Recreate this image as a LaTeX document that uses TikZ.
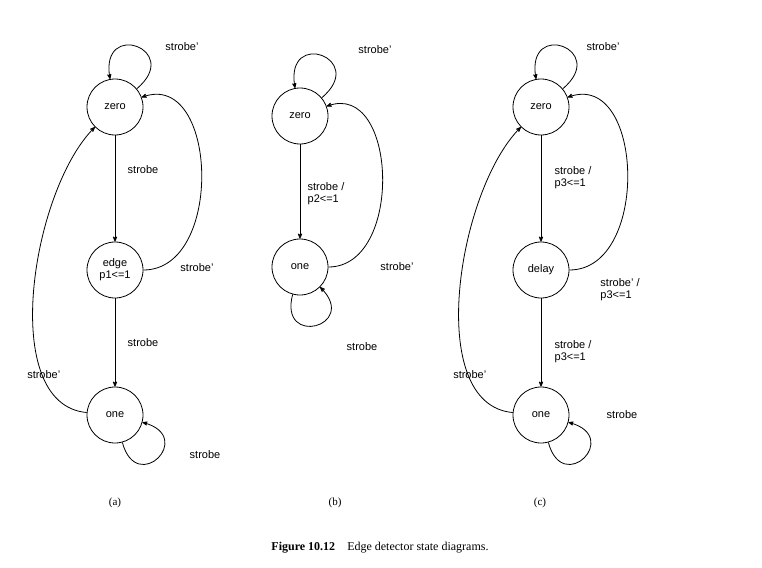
\documentclass[tikz,border=0pt]{standalone}
\usepackage{fontspec}
\setmainfont{Liberation Sans}
\newfontfamily\capfont{Liberation Serif}
\usetikzlibrary{arrows}
\usetikzlibrary{positioning}
\begin{document}
\begin{tikzpicture}[->,
                    >=stealth',
                    x=1pt,y=-1pt,
                    thick,
                    st/.style={circle,draw,minimum size=56pt,inner sep=0pt,align=center,font=\fontsize{11}{12}\selectfont},
                    lb/.style={draw=none,align=left,font=\fontsize{11}{12}\selectfont}
                    ]
\useasboundingbox (0,0) rectangle (762,567);
% (a)
  \node[st] (az) at (115,107) {zero};
  \node[st] (ae) at (115,270) {edge\\p1<=1};
  \node[st] (ao) at (115,415) {one};
\draw (az) edge[out=40,in=100,looseness=5.5] (az);
\node[lb] (al1) at (182,47) {strobe'};
\draw (az) -- (ae);
\node[lb] (al2) at (143,170) {strobe};
\draw (ae) to[out=0,in=20,looseness=1.2] (az);
\node[lb] (al3) at (197,268) {strobe'};
\draw (ae) -- (ao);
\node[lb] (al4) at (143,343) {strobe};
\draw (ao) to[out=175,in=225,looseness=0.8] (az);
\node[lb,anchor=east] (al5) at (64,375) {strobe'};
\draw (ao) edge[out=-75,in=-15,looseness=5] (ao);
\node[lb] (al6) at (205,455) {strobe};
\node[lb] (acap) at (115,503) {\capfont (a)};
% (b)
  \node[st] (bz) at (300,116) {zero};
  \node[st] (bo) at (300,267) {one};
\draw (bz) edge[out=40,in=100,looseness=5.5] (bz);
\node[lb] (bl1) at (375,50) {strobe'};
\draw (bz) -- (bo);
\node[lb] (bl2) at (326,194) {strobe /\\p2<=1};
\draw (bo) to[out=0,in=20,looseness=1.2] (bz);
\node[lb] (bl3) at (397,267) {strobe'};
\draw (bo) edge[out=-105,in=-45,looseness=5] (bo);
\node[lb] (bl4) at (362,347) {strobe};
\node[lb] (bcap) at (335,503) {\capfont (b)};
% (c)
  \node[st] (cz) at (541,107) {zero};
  \node[st] (cd) at (541,270) {delay};
  \node[st] (co) at (541,415) {one};
\draw (cz) edge[out=40,in=100,looseness=5.5] (cz);
\node[lb] (cl1) at (603,47) {strobe'};
\draw (cz) -- (cd);
\node[lb] (cl2) at (573,178) {strobe /\\p3<=1};
\draw (cd) to[out=0,in=20,looseness=1.2] (cz);
\node[lb] (cl3) at (620,290) {strobe' /\\p3<=1};
\draw (cd) -- (co);
\node[lb] (cl4) at (573,352) {strobe /\\p3<=1};
\draw (co) to[out=175,in=225,looseness=0.8] (cz);
\node[lb,anchor=east] (cl5) at (490,375) {strobe'};
\draw (co) edge[out=-75,in=-15,looseness=5] (co);
\node[lb] (cl6) at (622,415) {strobe};
\node[lb] (ccap) at (540,503) {\capfont (c)};
% caption
\node[lb] (fig) at (380,548) {\capfont\fontsize{12}{14}\selectfont\textbf{Figure 10.12}\quad Edge detector state diagrams.};
\end{tikzpicture}
\end{document}
